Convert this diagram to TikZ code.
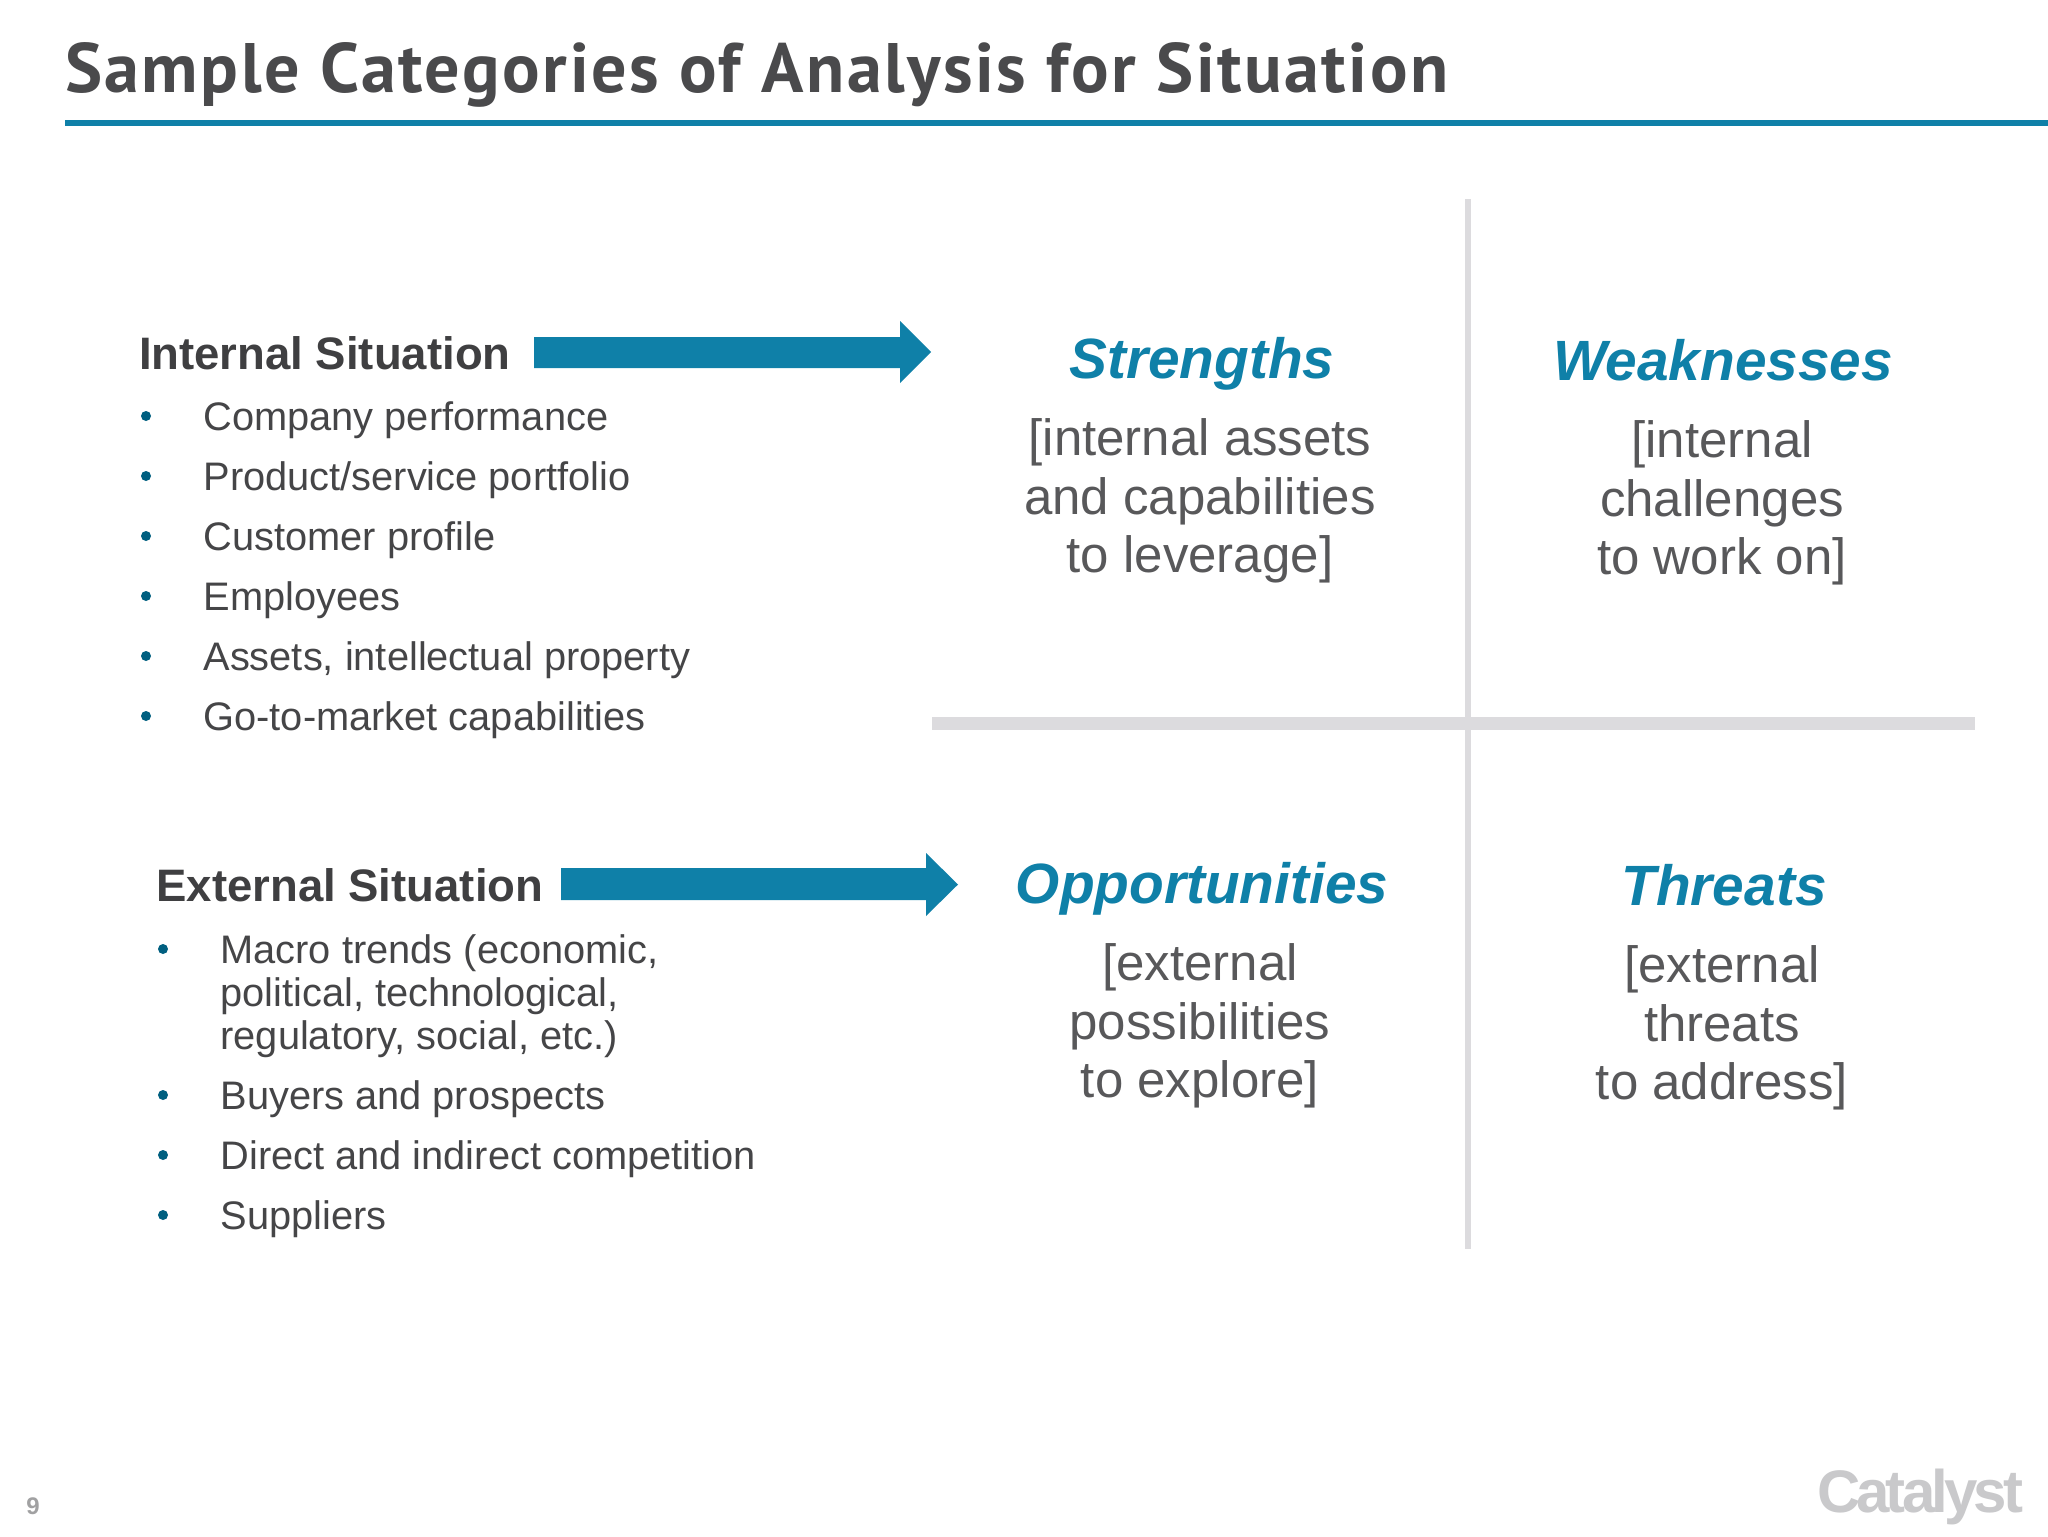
\documentclass[tikz,border=0pt]{standalone}
\usepackage{fontspec}
\setmainfont{Liberation Sans}
\newfontfamily\titlefont[LetterSpace=3.65]{PT Sans}
\newfontfamily\logofont[LetterSpace=-6.5]{Liberation Sans}
\definecolor{teal1}{HTML}{0F80A8}
\definecolor{bar}{HTML}{DCDBDE}
\definecolor{titlec}{HTML}{4A4A4C}
\definecolor{leftc}{HTML}{3F3F41}
\definecolor{listc}{HTML}{454547}
\definecolor{bodyc}{HTML}{58585A}
\definecolor{bul}{HTML}{005F80}
\definecolor{logoc}{HTML}{C9C9CB}
\tikzset{
  x=0.5pt,y=-0.5pt,
  txt/.style={inner sep=0pt,outer sep=0pt,anchor=base west},
  ttl/.style={txt,text=titlec,font=\titlefont\bfseries\fontsize{35}{40}\selectfont},
  hdr/.style={txt,text=leftc,font=\bfseries\fontsize{22.75}{26}\selectfont},
  item/.style={txt,text=listc,font=\fontsize{19.9}{21.5}\selectfont},
  bulletdot/.style={fill=bul,circle,inner sep=0pt,minimum size=5pt},
  swot/.style={inner sep=0pt,outer sep=0pt,anchor=base,text=teal1,font=\bfseries\itshape\fontsize{28.4}{34}\selectfont},
  desc/.style={inner sep=0pt,outer sep=0pt,anchor=base,text=bodyc,font=\fontsize{25.5}{30}\selectfont},
  arrowshape/.style={fill=teal1,draw=none},
  barline/.style={fill=bar,draw=none},
}
\newcommand{\listline}[3]{\node[item] at (#1,#2) {#3};}
\newcommand{\bulletat}[3]{\node[bulletdot] (#3) at (#1,#2) {};}
\begin{document}
\begin{tikzpicture}
\useasboundingbox (0,0) rectangle (2048,1536);
\fill[white] (0,0) rectangle (2048,1536);
% title
\node[ttl] (title) at (65,92) {Sample Categories of Analysis for Situation};
\fill[teal1] (65,120) rectangle (2048,125.5);
% grid
\fill[barline] (1465,199) rectangle (1471,1249);
\fill[barline] (932,717) rectangle (1975,730);
% internal
\node[hdr] (internal) at (139,369) {Internal Situation};
\fill[arrowshape] (534,337) -- (900,337) -- (900,321) -- (931,352) -- (900,383) -- (900,368) -- (534,368) -- cycle;
\bulletat{146}{416}{b1}\listline{203.5}{430}{Company performance}
\bulletat{146}{476}{b2}\listline{203.5}{490}{Product/service portfolio}
\bulletat{146}{536}{b3}\listline{203.5}{550}{Customer profile}
\bulletat{146}{596}{b4}\listline{203.5}{610}{Employees}
\bulletat{146}{656}{b5}\listline{203.5}{670}{Assets, intellectual property}
\bulletat{146}{716}{b6}\listline{203.5}{730}{Go-to-market capabilities}
% external
\node[hdr] (external) at (156.5,901) {External Situation};
\fill[arrowshape] (561,868) -- (926,868) -- (926,853) -- (958,884.5) -- (926,916) -- (926,900) -- (561,900) -- cycle;
\bulletat{163}{949}{b7}\listline{220.5}{963}{Macro trends (economic,}
\listline{220.5}{1006}{political, technological,}
\listline{220.5}{1049}{regulatory, social, etc.)}
\bulletat{163}{1095}{b8}\listline{220.5}{1109}{Buyers and prospects}
\bulletat{163}{1155}{b9}\listline{220.5}{1169}{Direct and indirect competition}
\bulletat{163}{1215}{b10}\listline{220.5}{1229}{Suppliers}
% SWOT
\node[swot] (s) at (1202,378) {Strengths};
\node[desc] (s1) at (1200,455) {[internal assets};
\node[desc] (s2) at (1200,514) {and capabilities};
\node[desc] (s3) at (1200,572) {to leverage]};
\node[swot] (w) at (1723,380) {Weaknesses};
\node[desc] (w1) at (1722,457) {[internal};
\node[desc] (w2) at (1722,516) {challenges};
\node[desc] (w3) at (1722,574) {to work on]};
\node[swot] (o) at (1202,903) {Opportunities};
\node[desc] (o1) at (1200,980) {[external};
\node[desc] (o2) at (1200,1039) {possibilities};
\node[desc] (o3) at (1200,1097) {to explore]};
\node[swot] (t) at (1724,905) {Threats};
\node[desc] (t1) at (1722,982) {[external};
\node[desc] (t2) at (1722,1041) {threats};
\node[desc] (t3) at (1722,1099) {to address]};
% footer
\node[txt,anchor=base,text=logoc!80!black,font=\bfseries\fontsize{12}{14}\selectfont] (pg) at (33,1514) {9};
\node[txt,text=logoc,font=\logofont\bfseries\fontsize{30}{36}\selectfont] (logo) at (1817,1512) {Catalyst};
\end{tikzpicture}
\end{document}
